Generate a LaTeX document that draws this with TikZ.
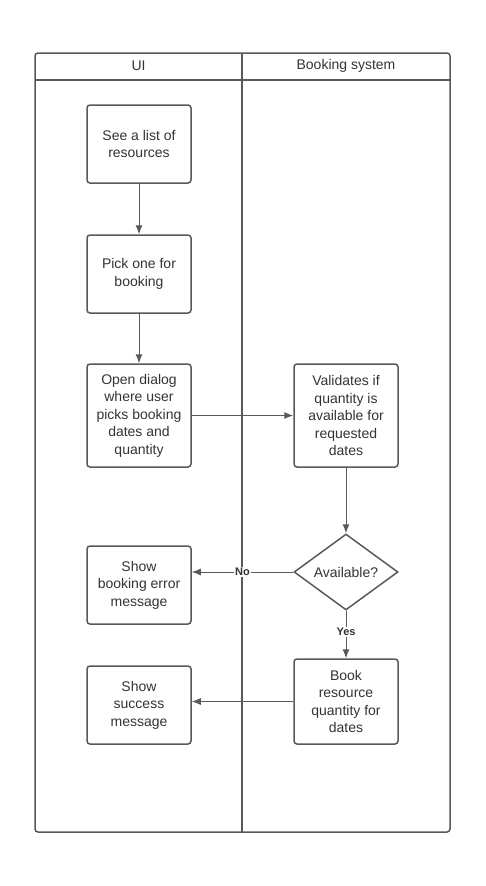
\documentclass[tikz,border=0pt]{standalone}
\usepackage{fontspec}
\setmainfont{Liberation Sans}
\usetikzlibrary{shapes.geometric,arrows.meta}
\definecolor{ln}{HTML}{595959}
\definecolor{tx}{HTML}{333333}
\begin{document}
\begin{tikzpicture}[x=1pt,y=-1pt,
  box/.style={draw=ln,line width=1.5pt,rounded corners=3pt,minimum width=104pt,align=center,text=tx,font=\fontsize{14}{17.5}\selectfont,inner sep=0pt},
  dia/.style={diamond,draw=ln,line width=1.5pt,minimum width=104pt,minimum height=76pt,inner sep=0pt,aspect=1.37,text=tx,font=\fontsize{14}{17.5}\selectfont},
  conn/.style={draw=ln,line width=1pt,-{Latex[length=9pt,width=7pt]}},
  lab/.style={font=\bfseries\fontsize{11}{13}\selectfont,text=tx,fill=white,inner sep=1pt},
  lane/.style={draw=ln,line width=1.5pt}]
\useasboundingbox (0,0) rectangle (485,886);
% frame
\draw[lane,rounded corners=3pt] (35,53) rectangle (450,832);
\draw[lane] (35,80) -- (450,80);
\draw[lane] (242,53) -- (242,832);
\node[text=tx,font=\fontsize{14}{17}\selectfont] (hui) at (138.5,66) {UI};
\node[text=tx,font=\fontsize{14}{17}\selectfont] (hbs) at (346,66) {Booking system};
% nodes
\node[box,minimum height=78pt] (see) at (139,144) {See a list of\\resources};
\node[box,minimum height=78pt] (pick) at (139,274) {Pick one for\\booking};
\node[box,minimum height=103pt] (open) at (139,415.5) {Open dialog\\where user\\picks booking\\dates and\\quantity};
\node[box,minimum height=103pt] (val) at (346,415.5) {Validates if\\quantity is\\available for\\requested\\dates};
\node[dia] (avail) at (346,572) {Available?};
\node[box,minimum height=78pt] (err) at (139,585) {Show\\booking error\\message};
\node[box,minimum height=85pt] (book) at (346,701.5) {Book\\resource\\quantity for\\dates};
\node[box,minimum height=78pt] (succ) at (139,705) {Show\\success\\message};
% connectors
\draw[conn] (see) -- (pick);
\draw[conn] (pick) -- (open);
\draw[conn] (open) -- (val);
\draw[conn] (val) -- (avail);
\draw[conn] (avail.west) -- node[lab,pos=0.5] {No} (avail.west -| err.east);
\draw[conn] (avail) -- node[lab,pos=0.45] {Yes} (book);
\draw[conn] (book.west) -- (book.west -| succ.east);
\end{tikzpicture}
\end{document}
